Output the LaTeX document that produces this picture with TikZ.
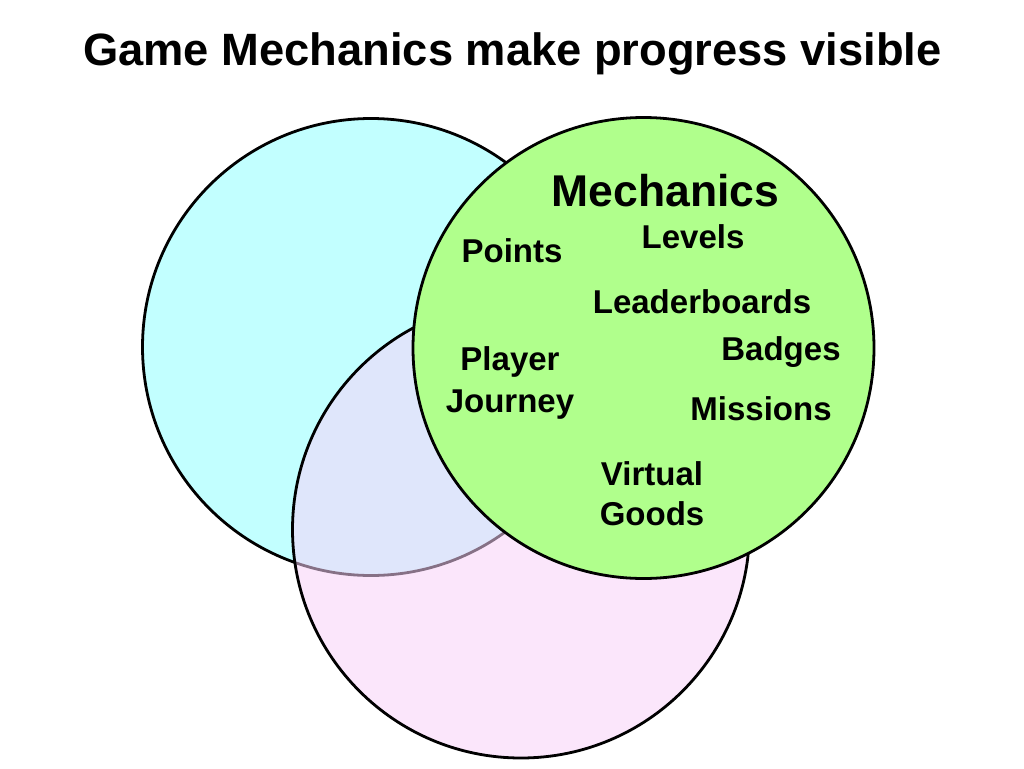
\documentclass[tikz,border=0pt]{standalone}
\usepackage{fontspec}
\setmainfont{Liberation Sans}
\definecolor{cyanfill}{RGB}{194,255,255}
\definecolor{pinkfill}{RGB}{249,209,249}
\definecolor{greenfill}{RGB}{176,255,140}
\begin{document}
\begin{tikzpicture}[x=1pt,y=-1pt,
  ring/.style={draw=black,line width=2.8pt},
  lbl/.style={inner sep=0pt,anchor=base,align=center,font=\fontsize{33}{42}\selectfont\bfseries},
  lbltwo/.style={lbl,font=\fontsize{33}{40}\selectfont\bfseries},
  titlestyle/.style={inner sep=0pt,anchor=base,font=\fontsize{45.3}{50}\selectfont\bfseries},
  headstyle/.style={inner sep=0pt,anchor=base,font=\fontsize{44.5}{50}\selectfont\bfseries}]
\useasboundingbox[fill=white] (0,0) rectangle (1024,768);
% circles
\draw[ring,fill=cyanfill] (371,347) circle[radius=228.5];
\draw[ring,fill=pinkfill,fill opacity=0.54] (521,529.5) circle[radius=228.5];
\draw[ring,fill=greenfill] (643.5,348) circle[radius=230.5];
% title
\node[titlestyle] (title) at (512.5,65) {Game Mechanics make progress visible};
% labels
\node[headstyle] (mech) at (665.5,206) {Mechanics};
\node[lbl] (levels) at (693,248) {Levels};
\node[lbl] (points) at (512,262) {Points};
\node[lbl] (leader) at (702,313) {Leaderboards};
\node[lbl] (badges) at (781,360) {Badges};
\node[lbl] (player) at (510,412) {Player\\Journey};
\node[lbl] (missions) at (761,420) {Missions};
\node[lbltwo] (virtual) at (652,525) {Virtual\\Goods};
\end{tikzpicture}
\end{document}
